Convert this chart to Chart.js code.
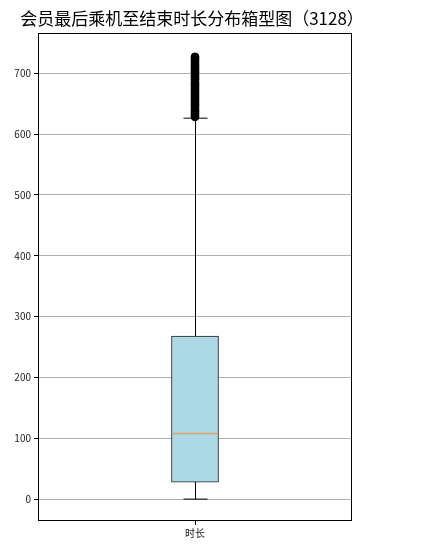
<!DOCTYPE html>
<html>
<head>
<meta charset="utf-8">
<script src="https://cdn.jsdelivr.net/npm/chart.js@4.4.1/dist/chart.umd.min.js"></script>
<style>
  body { margin: 0; background: #fff; }
  #wrap { width: 427px; height: 548px; }
</style>
</head>
<body>
<div id="wrap"><canvas id="boxChart" width="427" height="548"></canvas></div>
<script>
// ============================================================
// 数据区
// ============================================================
const CATEGORIES = ['时长'];
const TITLE_TEXT = '会员最后乘机至结束时长分布箱型图（3128）';

// 箱体统计量
const Q1 = [28];
const Q3 = [268];
const MEDIAN = [108];
const WHISKER_LOW = [0];
const WHISKER_HIGH = [626];

// 异常值（上须之外）
const OUTLIERS = [
  628, 629, 631, 632, 634, 635, 637, 638, 640, 641, 643, 645, 646, 648, 649,
  651, 652, 654, 656, 657, 659, 660, 662, 663, 665, 667, 668, 670, 671, 673,
  674, 676, 678, 679, 681, 682, 684, 685, 687, 689, 690, 692, 693, 695, 696,
  698, 700, 701, 703, 704, 706, 707, 709, 711, 712, 714, 715, 717, 718, 720,
  722, 723, 725, 726, 727
];

const Y_TICKS = [0, 100, 200, 300, 400, 500, 600, 700];
const Y_MIN = -36;
const Y_MAX = 766;

// ============================================================
// 须线、中位线、边框、标题
// ============================================================
const boxExtras = {
  id: 'boxExtras',
  afterDatasetsDraw(chart) {
    const ctx = chart.ctx;
    const x = chart.scales.x;
    const y = chart.scales.y;
    CATEGORIES.forEach((c, i) => {
      const cx = Math.round(x.getPixelForValue(i)) + 0.5;
      const capHalf = 12;
      const boxHalf = 23.5;
      ctx.save();
      ctx.strokeStyle = '#000';
      ctx.lineWidth = 1;
      ctx.beginPath();
      // 下须
      ctx.moveTo(cx, y.getPixelForValue(Q1[i]));
      ctx.lineTo(cx, y.getPixelForValue(WHISKER_LOW[i]));
      ctx.moveTo(cx - capHalf, y.getPixelForValue(WHISKER_LOW[i]));
      ctx.lineTo(cx + capHalf, y.getPixelForValue(WHISKER_LOW[i]));
      // 上须
      ctx.moveTo(cx, y.getPixelForValue(Q3[i]));
      ctx.lineTo(cx, y.getPixelForValue(WHISKER_HIGH[i]));
      ctx.moveTo(cx - capHalf, y.getPixelForValue(WHISKER_HIGH[i]));
      ctx.lineTo(cx + capHalf, y.getPixelForValue(WHISKER_HIGH[i]));
      ctx.stroke();
      // 中位线
      ctx.strokeStyle = '#e2a468';
      ctx.lineWidth = 1.5;
      ctx.beginPath();
      ctx.moveTo(cx - boxHalf + 1, y.getPixelForValue(MEDIAN[i]));
      ctx.lineTo(cx + boxHalf - 1, y.getPixelForValue(MEDIAN[i]));
      ctx.stroke();
      ctx.restore();
    });
  },
  afterDraw(chart) {
    const ctx = chart.ctx;
    const a = chart.chartArea;
    ctx.save();
    ctx.strokeStyle = '#000';
    ctx.lineWidth = 1;
    ctx.strokeRect(a.left + 0.5, a.top + 0.5, a.right - a.left - 1, a.bottom - a.top - 1);
    ctx.fillStyle = '#000';
    ctx.font = '17px "Noto Sans CJK SC"';
    ctx.textAlign = 'center';
    ctx.textBaseline = 'middle';
    ctx.fillText(TITLE_TEXT, (a.left + a.right) / 2 - 3, 19);
    ctx.restore();
  }
};

// ============================================================
// 绘图
// ============================================================
const ctx = document.getElementById('boxChart').getContext('2d');

new Chart(ctx, {
  type: 'bar',
  data: {
    labels: CATEGORIES,
    datasets: [
      {
        type: 'line',
        label: 'outliers',
        data: OUTLIERS.map(v => ({ x: CATEGORIES[0], y: v })),
        showLine: false,
        pointRadius: 3.8,
        pointBackgroundColor: '#000',
        pointBorderColor: '#000',
        pointBorderWidth: 1,
        order: 0
      },
      {
        label: 'box',
        data: CATEGORIES.map((c, i) => [Q1[i], Q3[i]]),
        backgroundColor: '#add8e6',
        borderColor: '#222',
        borderWidth: 1,
        borderSkipped: false,
        barThickness: 47,
        order: 1
      }
    ]
  },
  options: {
    responsive: false,
    animation: false,
    layout: { padding: { left: 0, right: 75, top: 33, bottom: 0 } },
    plugins: {
      legend: { display: false },
      title: { display: false },
      tooltip: { enabled: false }
    },
    scales: {
      x: {
        grid: { display: true, offset: false, drawOnChartArea: false, drawTicks: true, tickLength: 4, tickColor: '#000' },
        border: { display: false },
        ticks: {
          color: '#222',
          font: { family: '"Noto Sans CJK SC"', size: 10 },
          padding: 2
        },
        afterFit(scale) { scale.height = 27; }
      },
      y: {
        min: Y_MIN,
        max: Y_MAX,
        afterBuildTicks(scale) { scale.ticks = Y_TICKS.map(v => ({ value: v })); },
        grid: { color: '#b0b0b0', tickColor: '#000', tickLength: 4 },
        border: { display: false },
        ticks: {
          color: '#222',
          font: { family: '"Noto Sans CJK SC"', size: 10 },
          padding: 3
        },
        afterFit(scale) { scale.width = 38; }
      }
    }
  },
  plugins: [boxExtras]
});
</script>
</body>
</html>
